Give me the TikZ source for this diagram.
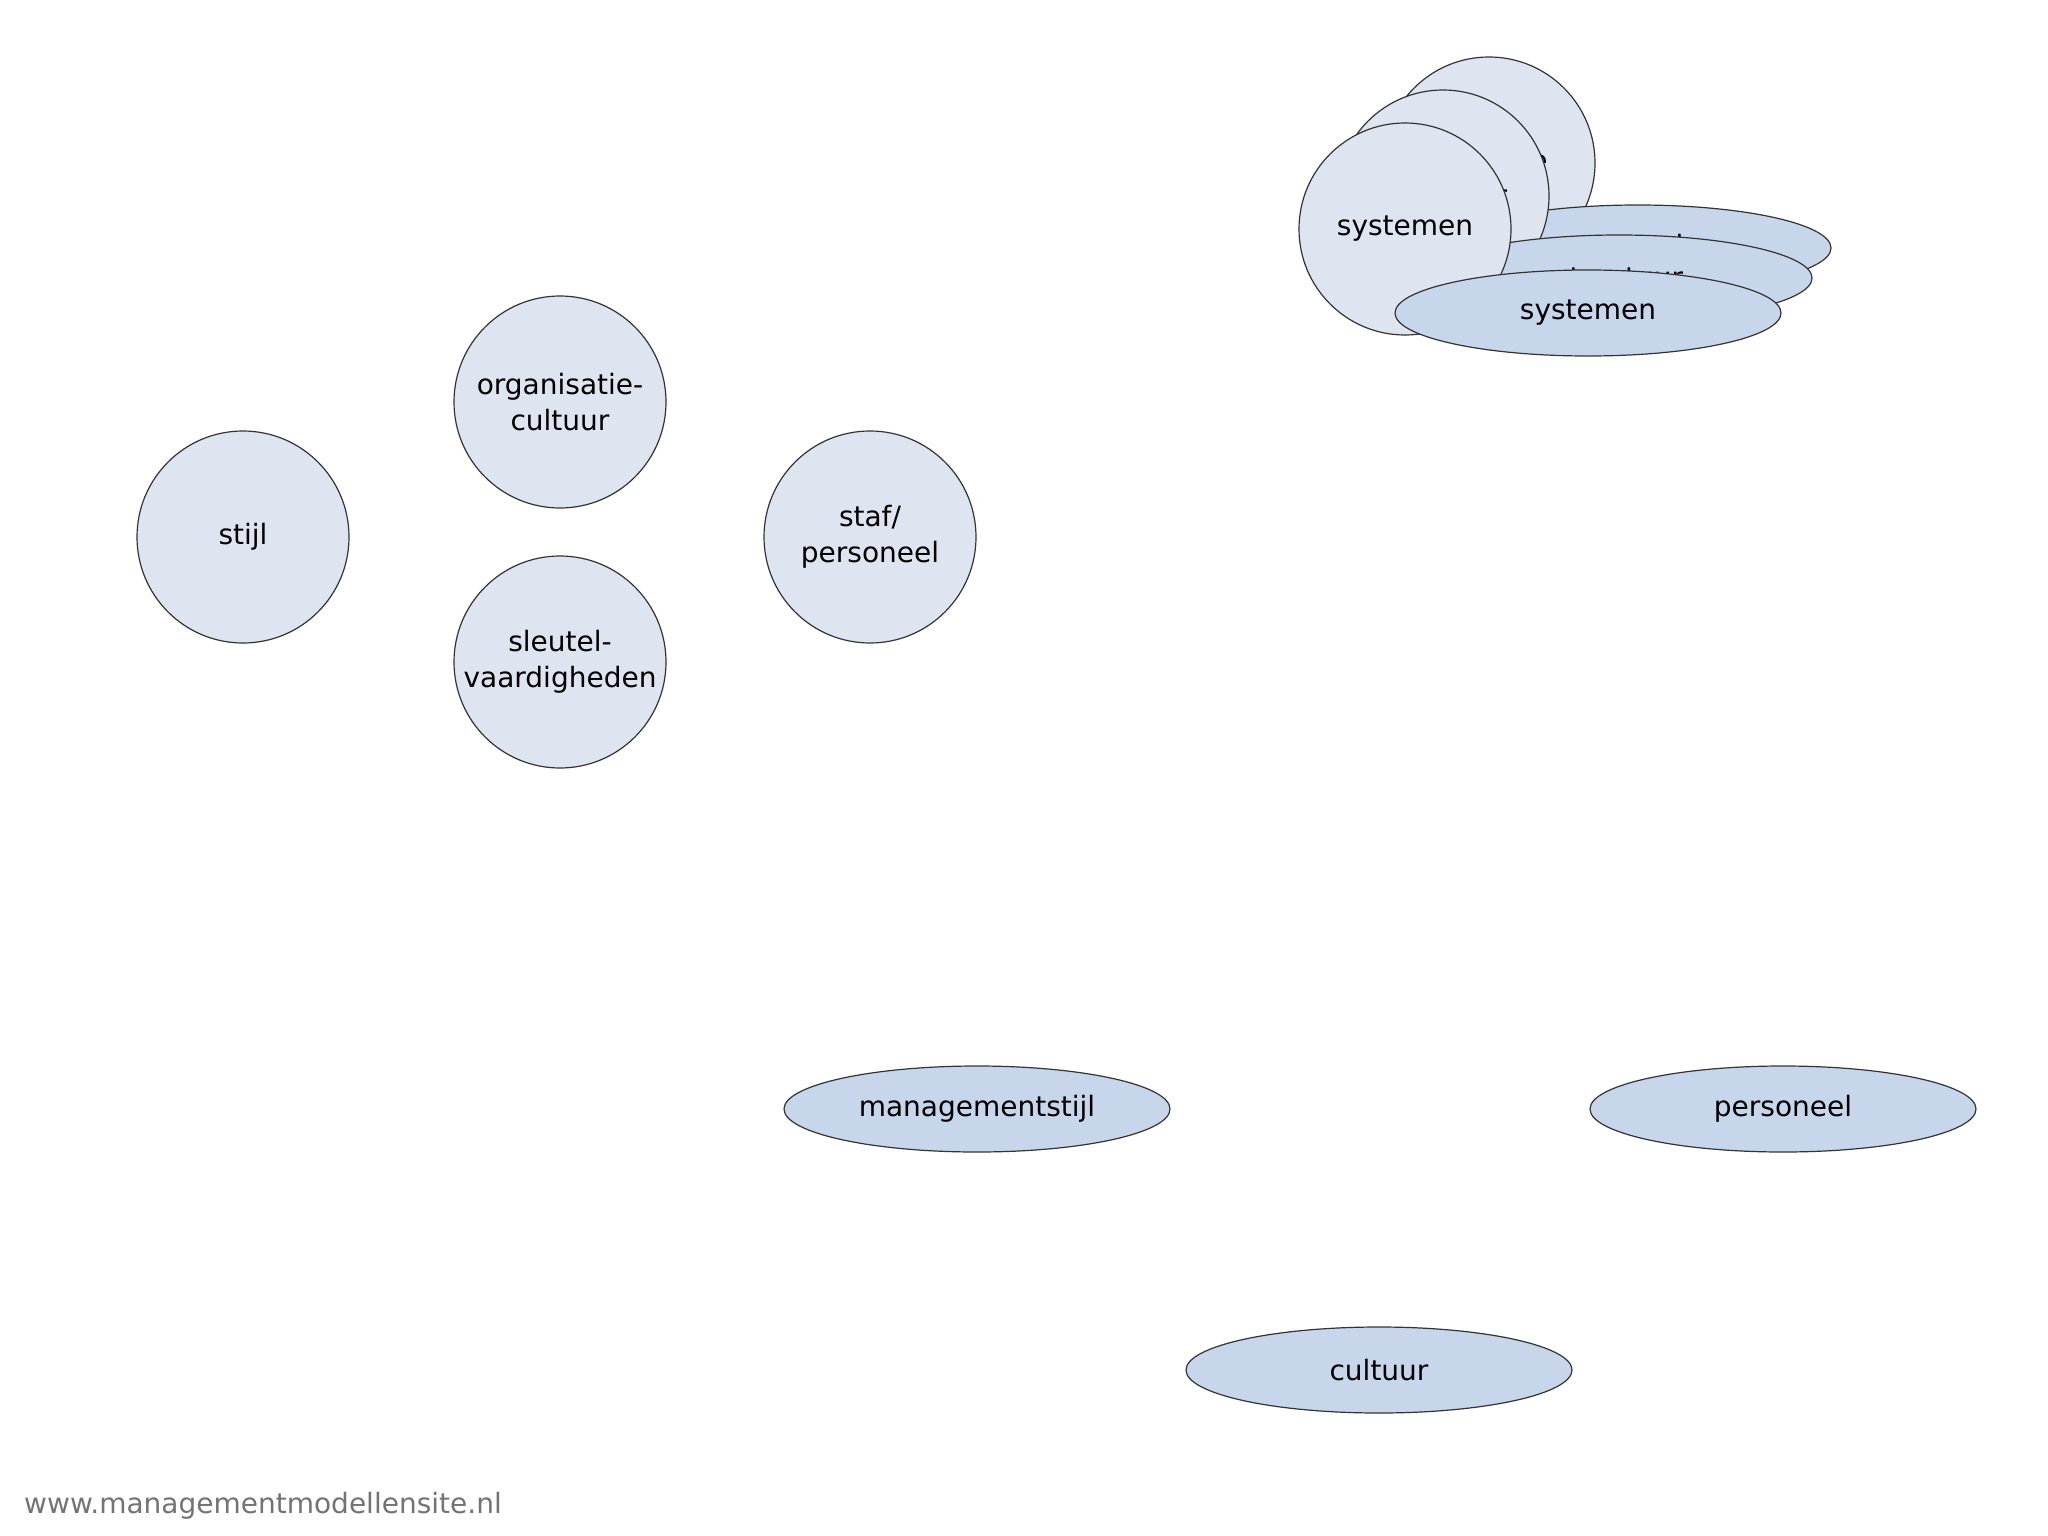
\documentclass[tikz,border=0pt]{standalone}
\usepackage{fontspec}
\setmainfont{DejaVu Sans}
\usetikzlibrary{shapes.geometric}
\begin{document}
\begin{tikzpicture}[x=1pt,y=-1pt,
  circ/.style={circle,draw=black!80,fill=cfill,minimum size=212pt,inner sep=0pt,align=center,font=\fontsize{28}{36}\selectfont,line width=1.2pt},
  ell/.style={ellipse,draw=black!80,fill=efill,minimum width=386pt,minimum height=86pt,inner sep=0pt,font=\fontsize{28}{36}\selectfont,line width=1.2pt}]
\definecolor{cfill}{HTML}{DEE5F1}
\definecolor{efill}{HTML}{C8D6EC}
\useasboundingbox[fill=white] (0,0) rectangle (2048,1536);
\node[circ] (stijl) at (243,537) {stijl};
\node[circ] (oc) at (560,402) {organisatie-\\cultuur};
\node[circ] (sv) at (560,662) {sleutel-\\vaardigheden};
\node[circ] (sp) at (870,537) {staf/\\personeel};
\node[circ] (c1) at (1489,163) {\hspace*{-8pt}strategie};
\node[ell] (e1) at (1638,248) {strategie};
\node[circ] (c2) at (1443,196) {structuur};
\node[ell] (e2) at (1619,278) {structuur};
\node[circ] (c3) at (1405,229) {systemen};
\node[ell] (e3) at (1588,313) {systemen};
\node[ell] (ms) at (977,1109) {managementstijl};
\node[ell] (pe) at (1783,1109) {personeel};
\node[ell] (cu) at (1379,1370) {cultuur};
\node[anchor=west,text=black!55,font=\fontsize{28}{34}\selectfont,inner sep=0pt] (url) at (24,1506) {www.managementmodellensite.nl};
\end{tikzpicture}
\end{document}
